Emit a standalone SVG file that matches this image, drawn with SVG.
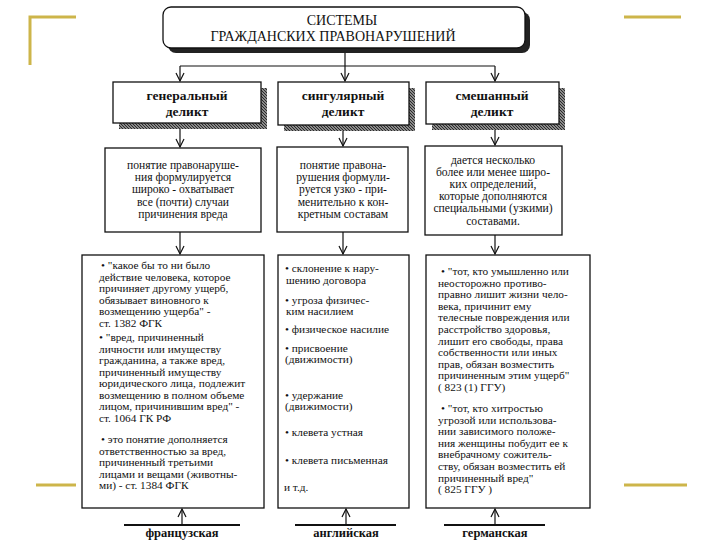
<svg xmlns="http://www.w3.org/2000/svg" width="720" height="540" viewBox="0 0 720 540">
<style>
.box{fill:#fff;stroke:#111;stroke-width:1.3}
.hd{font-family:"Liberation Serif","DejaVu Serif",serif;font-weight:bold;font-size:13.5px;fill:#111;text-anchor:middle}
.ds{font-family:"Liberation Serif","DejaVu Serif",serif;font-size:11.6px;fill:#111;text-anchor:middle}
.tx{font-family:"Liberation Serif","DejaVu Serif",serif;font-size:11.3px;fill:#111}
.tt{font-family:"Liberation Serif","DejaVu Serif",serif;font-size:14px;fill:#111;text-anchor:middle}
.lb{font-family:"Liberation Serif","DejaVu Serif",serif;font-weight:bold;font-size:12.5px;fill:#111;text-anchor:middle}
.ln{fill:none;stroke:#111;stroke-width:1.2}
.ul{fill:none;stroke:#111;stroke-width:2}
.gold{fill:none;stroke:#CDB54A;stroke-width:3}
.sh{fill:url(#hatch)}
</style>
<defs>
<pattern id="hatch" width="3" height="3" patternUnits="userSpaceOnUse">
<rect width="3" height="3" fill="#8a8a8a"/>
<path d="M0,0 L3,3" stroke="#2a2a2a" stroke-width="1"/>
</pattern>
<marker id="arr" viewBox="-10 -6 12 12" markerWidth="12" markerHeight="12" refX="0" refY="0" orient="auto" markerUnits="userSpaceOnUse" overflow="visible">
<path d="M-8,-4 L0,0 L-8,4" fill="none" stroke="#111" stroke-width="1.2"/>
</marker>
</defs>
<rect width="720" height="540" fill="#fff"/>

<g id="decor">
<path class="gold" d="M76,17 H30 V65"/>
<path class="gold" d="M624,17 H681"/>
<path class="gold" d="M36,485 H76"/>
<path class="gold" d="M624,485 H687"/>
</g>

<g id="title">
<rect x="168" y="12" width="362" height="41" rx="8" fill="#222"/>
<rect class="box" x="163" y="7" width="362" height="41" rx="8"/>
<text class="tt" x="342" y="25">СИСТЕМЫ</text>
<text class="tt" x="333" y="41">ГРАЖДАНСКИХ ПРАВОНАРУШЕНИЙ</text>
</g>

<g id="h1">
<rect class="sh" x="119" y="88" width="148" height="41"/>
<rect class="box" x="113" y="82" width="148" height="41"/>
<text class="hd" x="187" y="100">генеральный</text>
<text class="hd" x="187" y="116">деликт</text>
</g>
<g id="h2">
<rect class="sh" x="284" y="88" width="131" height="43"/>
<rect class="box" x="278" y="82" width="131" height="43"/>
<text class="hd" x="343" y="100">сингулярный</text>
<text class="hd" x="343" y="116">деликт</text>
</g>
<g id="h3">
<rect class="sh" x="432" y="88" width="133" height="42"/>
<rect class="box" x="426" y="82" width="133" height="42"/>
<text class="hd" x="492" y="100">смешанный</text>
<text class="hd" x="492" y="116">деликт</text>
</g>

<g id="d1">
<rect class="box" x="105" y="148" width="156" height="84"/>
<text class="ds" x="183" y="169">понятие правонаруше-</text>
<text class="ds" x="183" y="181.2">ния формулируется</text>
<text class="ds" x="183" y="193.4">широко - охватывает</text>
<text class="ds" x="183" y="205.6">все (почти) случаи</text>
<text class="ds" x="183" y="217.8">причинения вреда</text>
</g>
<g id="d2">
<rect class="box" x="277" y="147" width="131" height="85"/>
<text class="ds" x="343" y="169">понятие правона-</text>
<text class="ds" x="343" y="181.2">рушения формули-</text>
<text class="ds" x="343" y="193.4">руется узко - при-</text>
<text class="ds" x="343" y="205.6">менительно к кон-</text>
<text class="ds" x="343" y="217.8">кретным составам</text>
</g>
<g id="d3">
<rect class="box" x="425" y="146" width="137" height="89"/>
<text class="ds" x="493" y="163.5">дается несколько</text>
<text class="ds" x="493" y="175.7">более или менее широ-</text>
<text class="ds" x="493" y="187.9">ких определений,</text>
<text class="ds" x="493" y="200.1">которые дополняются</text>
<text class="ds" x="493" y="212.3">специальными (узкими)</text>
<text class="ds" x="493" y="224.5">составами.</text>
</g>

<g id="b1">
<rect class="box" x="82" y="255" width="182" height="253"/>
<text class="tx" x="101" y="269">• "какое бы то ни было</text>
<text class="tx" x="99" y="280.5">действие человека, которое</text>
<text class="tx" x="99" y="292">причиняет другому ущерб,</text>
<text class="tx" x="99" y="303.5">обязывает виновного к</text>
<text class="tx" x="99" y="315">возмещению ущерба" -</text>
<text class="tx" x="99" y="326.5">ст. 1382 ФГК</text>
<text class="tx" x="99" y="341">• "вред, причиненный</text>
<text class="tx" x="99" y="352.5">личности или имуществу</text>
<text class="tx" x="99" y="364">гражданина, а также вред,</text>
<text class="tx" x="99" y="375.5">причиненный имуществу</text>
<text class="tx" x="99" y="387">юридического лица, подлежит</text>
<text class="tx" x="99" y="398.5">возмещению в полном объеме</text>
<text class="tx" x="99" y="410">лицом, причинившим вред" -</text>
<text class="tx" x="99" y="421.5">ст. 1064 ГК РФ</text>
<text class="tx" x="101" y="443">• это понятие дополняется</text>
<text class="tx" x="99" y="454.5">ответственностью за вред,</text>
<text class="tx" x="99" y="466">причиненный третьими</text>
<text class="tx" x="99" y="477.5">лицами и вещами (животны-</text>
<text class="tx" x="99" y="489">ми) - ст. 1384 ФГК</text>
</g>

<g id="b2">
<rect class="box" x="278" y="255" width="131" height="253"/>
<text class="tx" x="285" y="272">• склонение к нару-</text>
<text class="tx" x="286" y="284">шению договора</text>
<text class="tx" x="285" y="304">• угроза физичес-</text>
<text class="tx" x="286" y="315">ким насилием</text>
<text class="tx" x="285" y="333">• физическое насилие</text>
<text class="tx" x="285" y="352">• присвоение</text>
<text class="tx" x="285" y="363">(движимости)</text>
<text class="tx" x="285" y="399">• удержание</text>
<text class="tx" x="285" y="410">(движимости)</text>
<text class="tx" x="285" y="436">• клевета устная</text>
<text class="tx" x="285" y="464">• клевета письменная</text>
<text class="tx" x="284" y="491">и т.д.</text>
</g>

<g id="b3">
<rect class="box" x="426" y="255" width="164" height="253"/>
<text class="tx" x="441" y="275">• "тот, кто умышленно или</text>
<text class="tx" x="438" y="286.6">неосторожно противо-</text>
<text class="tx" x="438" y="298.2">правно лишит жизни чело-</text>
<text class="tx" x="438" y="309.8">века, причинит ему</text>
<text class="tx" x="438" y="321.4">телесные повреждения или</text>
<text class="tx" x="438" y="333">расстройство здоровья,</text>
<text class="tx" x="438" y="344.6">лишит его свободы, права</text>
<text class="tx" x="438" y="356.2">собственности или иных</text>
<text class="tx" x="438" y="367.8">прав, обязан возместить</text>
<text class="tx" x="438" y="379.4">причиненным этим ущерб"</text>
<text class="tx" x="438" y="391">( 823 (1) ГГУ)</text>
<text class="tx" x="441" y="412">• "тот, кто хитростью</text>
<text class="tx" x="438" y="423.6">угрозой или использова-</text>
<text class="tx" x="438" y="435.2">нии зависимого положе-</text>
<text class="tx" x="438" y="446.8">ния женщины побудит ее к</text>
<text class="tx" x="438" y="458.4">внебрачному сожитель-</text>
<text class="tx" x="438" y="470">ству, обязан возместить ей</text>
<text class="tx" x="438" y="481.6">причиненный вред"</text>
<text class="tx" x="438" y="493.2">( 825 ГГУ )</text>
</g>

<g id="l1">
<line class="ul" x1="124" y1="525" x2="240" y2="525"/>
<text class="lb" x="182" y="536.5">французская</text>
</g>
<g id="l2">
<line class="ul" x1="295" y1="525" x2="396" y2="525"/>
<text class="lb" x="346" y="536.5">английская</text>
</g>
<g id="l3">
<line class="ul" x1="444" y1="525" x2="545" y2="525"/>
<text class="lb" x="495" y="536.5">германская</text>
</g>

<g id="connectors">
<path class="ln" d="M345,53 V66 M180,66 H495"/>
<path class="ln" d="M180,66 V81" marker-end="url(#arr)"/>
<path class="ln" d="M345,66 V81" marker-end="url(#arr)"/>
<path class="ln" d="M495,66 V81" marker-end="url(#arr)"/>
<path class="ln" d="M180,129 V147" marker-end="url(#arr)"/>
<path class="ln" d="M343,131 V146" marker-end="url(#arr)"/>
<path class="ln" d="M495,130 V145" marker-end="url(#arr)"/>
<path class="ln" d="M180,232 V254" marker-end="url(#arr)"/>
<path class="ln" d="M343,232 V254" marker-end="url(#arr)"/>
<path class="ln" d="M495,235 V254" marker-end="url(#arr)"/>
<path class="ln" d="M182,525 V509" marker-end="url(#arr)"/>
<path class="ln" d="M346,525 V509" marker-end="url(#arr)"/>
<path class="ln" d="M495,525 V509" marker-end="url(#arr)"/>
</g>
</svg>
